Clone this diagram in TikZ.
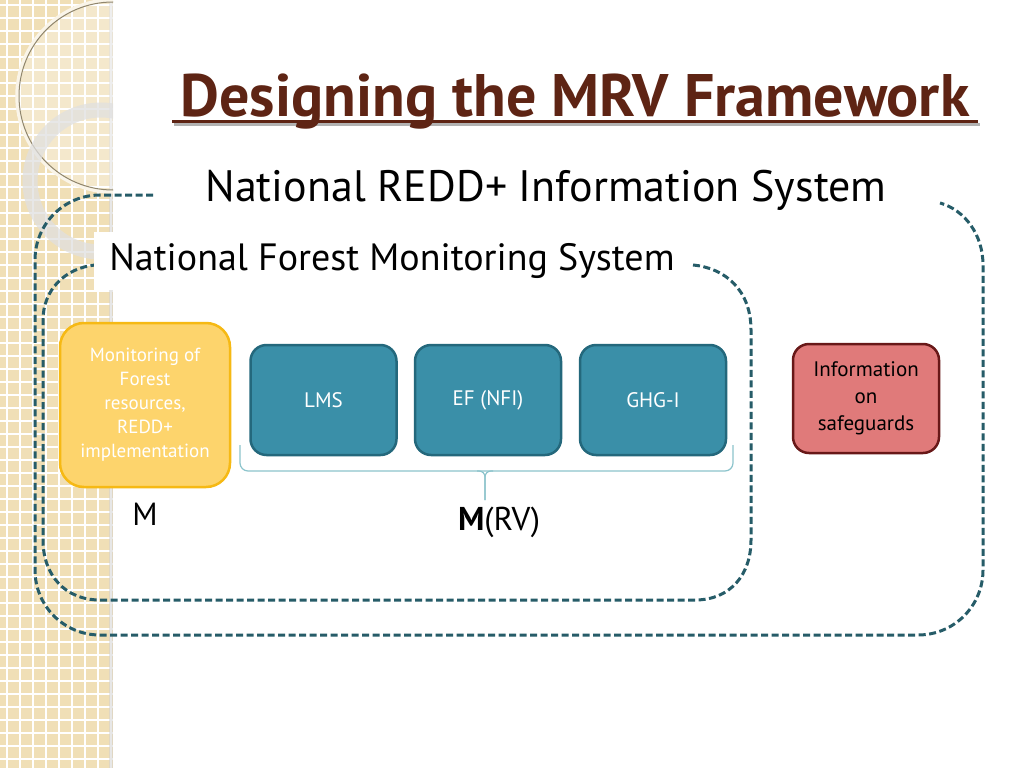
\documentclass[tikz,border=0pt]{standalone}
\usepackage{fontspec}
\setmainfont{PT Sans}
\definecolor{titlecol}{RGB}{94,36,20}
\definecolor{stripcol}{RGB}{240,223,182}
\definecolor{framecol}{RGB}{38,92,104}
\definecolor{tealfill}{RGB}{58,143,168}
\definecolor{tealline}{RGB}{36,104,124}
\definecolor{yelfill}{RGB}{253,212,108}
\definecolor{yelline}{RGB}{246,185,20}
\definecolor{redfill}{RGB}{224,122,122}
\definecolor{redline}{RGB}{104,24,24}
\definecolor{bracecol}{RGB}{140,196,204}
\begin{document}
\begin{tikzpicture}[x=1pt,y=-1pt,line width=1pt,
  every node/.style={inner sep=1pt},
  frame/.style={draw=framecol,line width=3pt,dash pattern=on 7pt off 3.5pt},
  box/.style={draw,line width=2.5pt,rounded corners=16pt,align=center,minimum width=146pt,minimum height=110pt},
  tealbox/.style={box,fill=tealfill,draw=tealline,text=white,font=\fontsize{21}{26}\selectfont},
  brace/.style={draw=bracecol,line width=1.2pt}]
\useasboundingbox (0,0) rectangle (1024,768);
\fill[white] (0,0) rectangle (1024,768);
% side strip
\fill[stripcol] (0,0) rectangle (113,768);
\foreach \x in {7,20,...,113} \draw[white,line width=1.2pt] (\x,0) -- (\x,768);
\foreach \y in {5,18,...,768} \draw[white,line width=1.2pt] (0,\y) -- (113,\y);
\fill[black!18,opacity=.5] (109,0) rectangle (113,768);
\begin{scope}
\clip (0,0) rectangle (113,768);
\fill[white,opacity=.3] (113,96) circle[radius=94];
\draw[white!70!stripcol,line width=3.5pt] (113,96) circle[radius=96];
\draw[black!40!stripcol,line width=1pt] (113,96) circle[radius=94];
\draw[black!12,line width=15pt,opacity=.75] (101,181) circle[radius=71];
\end{scope}
% title
\draw[black!30,line width=2.5pt] (174,124.5) -- (980,124.5);
\node (Ti) [text=titlecol,font=\bfseries\fontsize{60}{70}\selectfont] at (575,102) {Designing the MRV Framework};
\draw[titlecol,line width=2.5pt] (172,121.5) -- (978,121.5);
% frames
\draw[frame] (153,195) -- (100,195) .. controls (64,195) and (35,224) .. (35,260) -- (35,570) .. controls (35,606) and (64,635) .. (100,635) -- (918,635) .. controls (954,635) and (983,606) .. (983,570) -- (983,265) .. controls (983,235) and (965,210) .. (940,203);
\draw[frame] (693,265) .. controls (725,268) and (751,290) .. (751,330) -- (751,540) .. controls (751,575) and (730,600) .. (695,600) -- (100,600) .. controls (65,600) and (43,575) .. (43,540) -- (43,320) .. controls (43,290) and (65,268) .. (95,265);
\node (NRIS) [font=\fontsize{44}{52}\selectfont] at (546,190) {National REDD+ Information System};
\node (NFMS) [fill=white,inner xsep=15pt,minimum height=58pt,font=\fontsize{38}{44}\selectfont] at (392,261) {National Forest Monitoring System};
% boxes
\node (Mon) [box,fill=yelfill,draw=yelline,text=white,minimum width=170pt,minimum height=164pt,rounded corners=24pt,font=\fontsize{19}{24}\selectfont] at (145,405) {Monitoring of\\Forest\\resources,\\REDD+\\implementation};
\node (LMS) [tealbox] at (323.5,400) {LMS};
\node (EF) [tealbox] at (488,400) {EF (NFI)};
\node (GHG) [tealbox] at (653,400) {GHG-I};
\node (Saf) [box,fill=redfill,draw=redline,minimum height=109pt,font=\fontsize{21}{27}\selectfont] at (866,398.5) {Information\\on\\safeguards};
% brace
\draw[brace,rounded corners=8pt] (240,445) -- (240,471) -- (733,471) -- (733,445);
\draw[brace,rounded corners=6pt] (477,471) -| (485,500);
\draw[brace,rounded corners=6pt] (493,471) -| (485,500);
\node (M) [font=\fontsize{32}{36}\selectfont] at (145,514) {M};
\node (MRV) [font=\fontsize{33}{38}\selectfont] at (499,522) {\textbf{M}(RV)};
\end{tikzpicture}
\end{document}
